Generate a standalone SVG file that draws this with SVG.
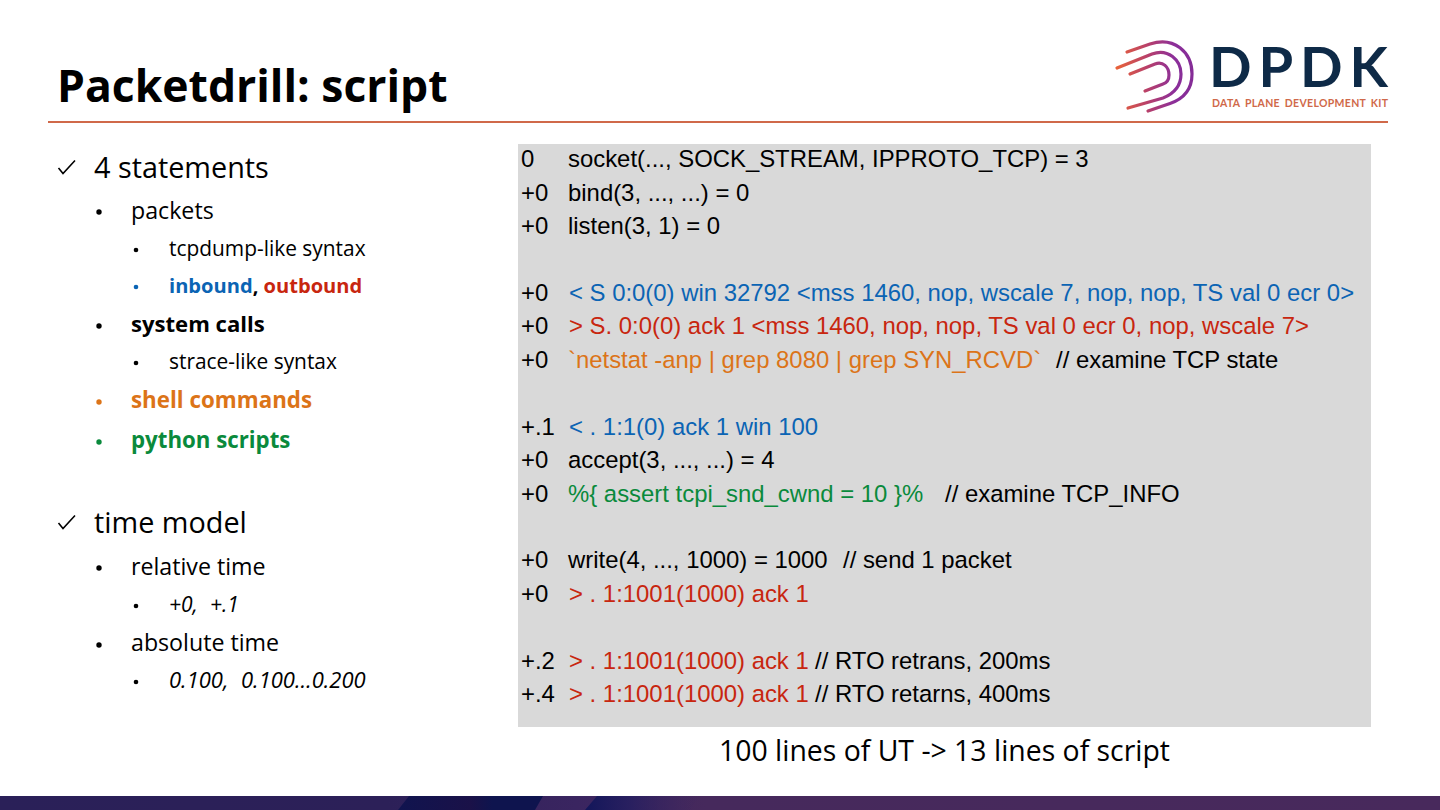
<svg xmlns="http://www.w3.org/2000/svg" width="1440" height="810" viewBox="0 0 1440 810">
<style>
.u{font-family:"Open Sans","Noto Sans",sans-serif}
.t{font-family:"Liberation Sans",Arial,sans-serif;font-size:23.9px;fill:#000}
.l1{font-size:28.8px}.l2{font-size:23.2px}.l3{font-size:20.9px}
.b{fill:#0b64b4}.r{fill:#c8260f}.o{fill:#dc7418}.g{fill:#0a8a3c}
.bd{font-weight:700}
.arc{fill:none;stroke:url(#lg);stroke-width:3.2;stroke-linecap:round}
.ck{fill:none;stroke:#000;stroke-width:1.6}
</style>
<defs>
<linearGradient id="lg" gradientUnits="userSpaceOnUse" x1="1117" y1="76" x2="1193" y2="76"><stop offset="0" stop-color="#e8623a"/><stop offset=".4" stop-color="#b8406a"/><stop offset=".75" stop-color="#8c2f9a"/><stop offset="1" stop-color="#842c96"/></linearGradient>
<linearGradient id="band" x1="0" x2="1" y1="0" y2="0"><stop offset="0" stop-color="#2a2058"/><stop offset=".27" stop-color="#2c2058"/><stop offset=".4" stop-color="#3a2560"/><stop offset=".49" stop-color="#46295c"/><stop offset="1" stop-color="#48295c"/></linearGradient>
<linearGradient id="d1" x1="0" x2="1" y1="0" y2="0"><stop offset="0" stop-color="#10144f"/><stop offset=".5" stop-color="#1a1148"/><stop offset=".65" stop-color="#0e144e"/><stop offset="1" stop-color="#0e144e"/></linearGradient>
<linearGradient id="d2" x1="0" x2="1" y1="0" y2="0"><stop offset="0" stop-color="#12165a"/><stop offset=".4" stop-color="#241e60" stop-opacity=".8"/><stop offset="1" stop-color="#3a2560" stop-opacity="0"/></linearGradient>
</defs>
<rect width="1440" height="810" fill="#fff"/>
<g id="band-art">
<rect y="796" width="1440" height="14" fill="url(#band)"/>
<polygon points="409,796 543,796 535,810 398,810" fill="url(#d1)"/>
<polygon points="597,796 700,796 690,810 585,810" fill="url(#d2)"/>
</g>
<text x="57" y="102" font-family="Open Sans,Noto Sans,sans-serif" font-size="44.5" font-weight="700" fill="#000">Packetdrill: script</text>
<rect x="48" y="121" width="1340" height="2" fill="#d0694a"/>
<g id="logo">
<path class="arc" d="M1127 52 L1150 44 C1174 36 1192 52 1192 74 C1192 90 1183 99 1170 103.500 L1148 111"/>
<path class="arc" d="M1117 68 L1152 54 C1168 48 1181 60 1181 74 C1181 87 1173 94 1163 98 L1128 108"/>
<path class="arc" d="M1130 74 L1155 64 C1163 61 1169 67 1169 75 C1169 80 1166 83 1163 84 L1145 91"/>
<text x="1209" y="87" font-family="Lato,sans-serif" font-size="56" fill="#0e2a47" textLength="179" lengthAdjust="spacing" font-weight="700">DPDK</text>
<text x="1212" y="106.500" font-family="Lato,sans-serif" font-size="10.500" font-weight="700" fill="#d0694a" word-spacing="2" textLength="176" lengthAdjust="spacing">DATA PLANE DEVELOPMENT KIT</text>
</g>
<g id="outline" class="u">
<text class="u l1" x="94" y="178">4 statements</text>
<text class="u l2" x="131" y="219">packets</text>
<text class="u l3" x="169" y="256">tcpdump-like syntax</text>
<text class="u bd" font-size="20.100" x="169" y="293"><tspan class="b">inbound</tspan>, <tspan class="r">outbound</tspan></text>
<text class="u bd" font-size="22.100" x="131" y="332">system calls</text>
<text class="u l3" x="169" y="369">strace-like syntax</text>
<text class="u bd o" font-size="22.350" x="131" y="408">shell commands</text>
<text class="u bd g" font-size="22.250" x="131" y="448">python scripts</text>
<text class="u l1" x="94" y="533">time model</text>
<text class="u l2" x="131" y="575">relative time</text>
<text class="u" font-size="21" x="169" y="612" font-style="italic">+0,<tspan x="210">+.1</tspan></text>
<text class="u l2" x="131" y="651">absolute time</text>
<text class="u" font-size="22" x="169" y="688" font-style="italic">0.100,<tspan x="241">0.100…0.200</tspan></text>
<path class="ck" d="M58.500 168 L63 173.500 L75 160.500"/>
<path class="ck" d="M58.500 523 L63 528.500 L75 515.500"/>
<g>
<circle cx="99" cy="212" r="2.700"/><circle cx="136" cy="250" r="2.300"/><circle cx="136" cy="287" r="2.300" class="b"/><circle cx="99" cy="326" r="2.700"/><circle cx="136" cy="363" r="2.300"/><circle cx="99" cy="402" r="2.700" class="o"/><circle cx="99" cy="442" r="2.700" class="g"/><circle cx="99" cy="568" r="2.700"/><circle cx="136" cy="606" r="2.300"/><circle cx="99" cy="645" r="2.700"/><circle cx="136" cy="682" r="2.300"/>
</g>
</g>
<g id="code">
<rect x="518" y="144" width="853" height="583" fill="#d9d9d9"/>
<text class="t" x="521" y="167">0</text><text class="t" x="568" y="167">socket(..., SOCK_STREAM, IPPROTO_TCP) = 3</text>
<text class="t" x="521" y="201">+0</text><text class="t" x="568" y="201">bind(3, ..., ...) = 0</text>
<text class="t" x="521" y="234">+0</text><text class="t" x="568" y="234">listen(3, 1) = 0</text>
<text class="t" x="521" y="301">+0</text><text class="t b" x="569" y="301">&lt; S 0:0(0) win 32792 &lt;mss 1460, nop, wscale 7, nop, nop, TS val 0 ecr 0&gt;</text>
<text class="t" x="521" y="334">+0</text><text class="t r" x="569" y="334">&gt; S. 0:0(0) ack 1 &lt;mss 1460, nop, nop, TS val 0 ecr 0, nop, wscale 7&gt;</text>
<text class="t" x="521" y="368">+0</text><text class="t o" x="568" y="368">`netstat -anp | grep 8080 | grep SYN_RCVD`</text><text class="t" x="1056" y="368">// examine TCP state</text>
<text class="t" x="521" y="435">+.1</text><text class="t b" x="569" y="435">&lt; . 1:1(0) ack 1 win 100</text>
<text class="t" x="521" y="468">+0</text><text class="t" x="568" y="468">accept(3, ..., ...) = 4</text>
<text class="t" x="521" y="502">+0</text><text class="t g" x="568" y="502">%{ assert tcpi_snd_cwnd = 10 }%</text><text class="t" x="945" y="502">// examine TCP_INFO</text>
<text class="t" x="521" y="568">+0</text><text class="t" x="568" y="568">write(4, ..., 1000) = 1000</text><text class="t" x="843" y="568">// send 1 packet</text>
<text class="t" x="521" y="602">+0</text><text class="t r" x="569" y="602">&gt; . 1:1001(1000) ack 1</text>
<text class="t" x="521" y="669">+.2</text><text class="t r" x="569" y="669">&gt; . 1:1001(1000) ack 1</text><text class="t" x="815" y="669">// RTO retrans, 200ms</text>
<text class="t" x="521" y="702">+.4</text><text class="t r" x="569" y="702">&gt; . 1:1001(1000) ack 1</text><text class="t" x="815" y="702">// RTO retarns, 400ms</text>
</g>
<text class="u" x="719" y="761" font-size="28.400">100 lines of UT -&gt; 13 lines of script</text>
</svg>
